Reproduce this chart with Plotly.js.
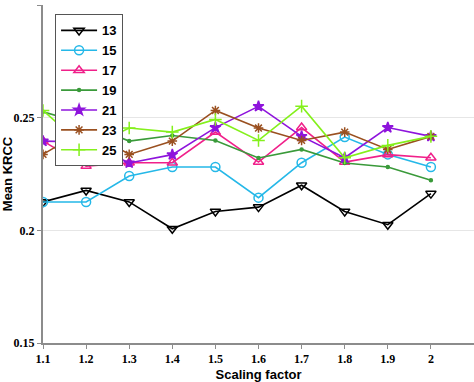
<!DOCTYPE html>
<html>
<head>
<meta charset="utf-8">
<script src="https://cdn.plot.ly/plotly-3.0.1.min.js"></script>
<style>html,body{margin:0;padding:0;background:#fff;}#chart{width:474px;height:382px;}</style>
</head>
<body>
<div id="chart"></div>
<script>
// Data
var scaling = [1.1, 1.2, 1.3, 1.4, 1.5, 1.6, 1.7, 1.8, 1.9, 2.0];
var xTickLabels = ["1.1", "1.2", "1.3", "1.4", "1.5", "1.6", "1.7", "1.8", "1.9", "2"];
var yTicks = [0.15, 0.2, 0.25, 0.3];
var yTickLabels = ["0.15", "0.2", "0.25", "0.3"];

var seriesNames = ["13", "15", "17", "19", "21", "23", "25"];
var s13 = [0.2126, 0.2177, 0.2126, 0.2007, 0.2084, 0.2103, 0.2200, 0.2084, 0.2025, 0.2163];
var s15 = [0.2126, 0.2126, 0.2241, 0.2281, 0.2281, 0.2145, 0.2300, 0.2414, 0.2337, 0.2281];
var s17 = [0.2396, 0.2285, 0.2300, 0.2300, 0.2436, 0.2303, 0.2456, 0.2303, 0.2336, 0.2322];
var s19 = [0.2526, 0.2472, 0.2396, 0.2421, 0.2399, 0.2321, 0.2359, 0.2299, 0.2281, 0.2222];
var s21 = [0.2396, 0.2392, 0.2299, 0.2336, 0.2456, 0.2550, 0.2417, 0.2322, 0.2456, 0.2417];
var s23 = [0.2337, 0.2450, 0.2337, 0.2396, 0.2532, 0.2454, 0.2399, 0.2436, 0.2359, 0.2417];
var s25 = [0.2532, 0.2362, 0.2454, 0.2436, 0.2492, 0.2399, 0.2551, 0.2322, 0.2377, 0.2417];

var values = [s13, s15, s17, s19, s21, s23, s25];
var colors = ["#000000", "#25b8e8", "#f0208a", "#3a9a3a", "#8e14dc", "#9a5020", "#84f01c"];
var symbols = ["triangle-down-open", "circle-open", "triangle-up-open", "circle", "star", "asterisk-open", "cross-thin-open"];
var sizes = [9, 9, 9, 3, 8, 8, 9];

var traces = values.map(function (v, i) {
  return {
    x: scaling,
    y: v,
    name: seriesNames[i],
    type: "scatter",
    mode: "lines+markers",
    line: {color: colors[i], width: 1.6},
    marker: {
      symbol: symbols[i],
      size: sizes[i],
      color: colors[i],
      line: {color: colors[i], width: 1.5}
    }
  };
});

var layout = {
  width: 474,
  height: 382,
  margin: {l: 43, r: 0, t: 5, b: 39},
  paper_bgcolor: "#ffffff",
  plot_bgcolor: "#ffffff",
  showlegend: true,
  legend: {
    x: 0.028, y: 0.972, xanchor: "left", yanchor: "top",
    bgcolor: "#ffffff", bordercolor: "#555555", borderwidth: 1,
    font: {family: "Liberation Sans, Arial, sans-serif", size: 13, color: "#000000", weight: "bold"},
    itemwidth: 36,
    tracegroupgap: 0
  },
  xaxis: {
    range: [1.1, 2.1],
    tickmode: "array",
    tickvals: scaling,
    ticktext: xTickLabels,
    showgrid: false,
    zeroline: false,
    showline: true,
    linecolor: "#8c8c8c",
    linewidth: 2,
    ticks: "outside",
    ticklen: 4,
    tickwidth: 1,
    tickcolor: "#8c8c8c",
    tickfont: {family: "Liberation Serif, Times New Roman, serif", size: 12, color: "#000000", weight: "bold"},
    title: {text: "Scaling factor", standoff: 4,
      font: {family: "Liberation Sans, Arial, sans-serif", size: 13, color: "#000000", weight: "bold"}},
    fixedrange: true
  },
  yaxis: {
    range: [0.15, 0.3],
    tickmode: "array",
    tickvals: yTicks,
    ticktext: yTickLabels,
    showgrid: true,
    gridcolor: "#e6e6e6",
    gridwidth: 1.5,
    zeroline: false,
    showline: true,
    linecolor: "#8c8c8c",
    linewidth: 2,
    ticks: "outside",
    ticklen: 4,
    tickwidth: 1,
    tickcolor: "#8c8c8c",
    tickfont: {family: "Liberation Serif, Times New Roman, serif", size: 12, color: "#000000", weight: "bold"},
    title: {text: "Mean KRCC", standoff: 6,
      font: {family: "Liberation Sans, Arial, sans-serif", size: 13, color: "#000000", weight: "bold"}},
    fixedrange: true
  }
};

Plotly.newPlot("chart", traces, layout, {displayModeBar: false, staticPlot: true});
</script>
</body>
</html>
